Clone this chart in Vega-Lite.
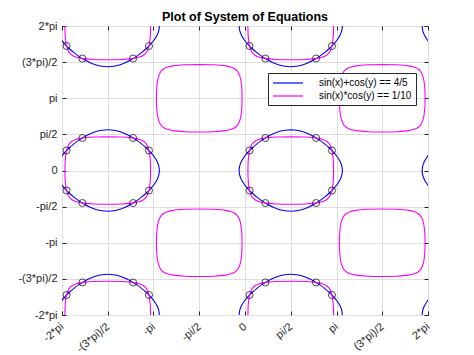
{
"$schema": "https://vega.github.io/schema/vega-lite/v6.json",
"width": 366, "height": 289,
"autosize": {"type": "none"},
"padding": {"left": 62, "top": 26, "right": 46, "bottom": 40},
"background": "white",
"title": {"text": "Plot of System of Equations", "font": "Liberation Sans", "fontSize": 12.5, "fontWeight": "bold", "color": "#000000", "offset": -3},
"config": {
 "view": {"stroke": "#262626", "strokeWidth": 1},
 "axis": {"labelFont": "Liberation Sans", "labelFontSize": 11, "labelColor": "#262626", "tickColor": "#262626", "gridColor": "#dfdfdf", "domain": false, "title": null, "tickSize": -4}
},
"datasets": {
"blue": [
{"g":1,"x":1.5708,"y":1.7722},{"g":1,"x":1.7708,"y":1.7519},{"g":1,"x":1.9708,"y":1.6922},{"g":1,"x":2.1708,"y":1.5961},{"g":1,"x":2.3708,"y":1.4673},{"g":1,"x":2.5708,"y":1.3081},{"g":1,"x":2.7301,"y":1.1593},{"g":1,"x":2.8789,"y":1.0},{"g":1,"x":3.0381,"y":0.8},{"g":1,"x":3.1669,"y":0.6},{"g":1,"x":3.2630,"y":0.4},{"g":1,"x":3.3227,"y":0.2},{"g":1,"x":3.3430,"y":0},
{"g":1,"x":3.3227,"y":-0.2},{"g":1,"x":3.2630,"y":-0.4},{"g":1,"x":3.1669,"y":-0.6},{"g":1,"x":3.0381,"y":-0.8},{"g":1,"x":2.8789,"y":-1.0},{"g":1,"x":2.7301,"y":-1.1593},{"g":1,"x":2.5708,"y":-1.3081},{"g":1,"x":2.3708,"y":-1.4673},{"g":1,"x":2.1708,"y":-1.5961},{"g":1,"x":1.9708,"y":-1.6922},{"g":1,"x":1.7708,"y":-1.7519},{"g":1,"x":1.5708,"y":-1.7722},
{"g":1,"x":1.3708,"y":-1.7519},{"g":1,"x":1.1708,"y":-1.6922},{"g":1,"x":0.9708,"y":-1.5961},{"g":1,"x":0.7708,"y":-1.4673},{"g":1,"x":0.5708,"y":-1.3081},{"g":1,"x":0.4115,"y":-1.1593},{"g":1,"x":0.2627,"y":-1.0},{"g":1,"x":0.1035,"y":-0.8},{"g":1,"x":-0.0253,"y":-0.6},{"g":1,"x":-0.1214,"y":-0.4},{"g":1,"x":-0.1811,"y":-0.2},{"g":1,"x":-0.2014,"y":0},
{"g":1,"x":-0.1811,"y":0.2},{"g":1,"x":-0.1214,"y":0.4},{"g":1,"x":-0.0253,"y":0.6},{"g":1,"x":0.1035,"y":0.8},{"g":1,"x":0.2627,"y":1.0},{"g":1,"x":0.4115,"y":1.1593},{"g":1,"x":0.5708,"y":1.3081},{"g":1,"x":0.7708,"y":1.4673},{"g":1,"x":0.9708,"y":1.5961},{"g":1,"x":1.1708,"y":1.6922},{"g":1,"x":1.3708,"y":1.7519},{"g":1,"x":1.5708,"y":1.7722},
{"g":2,"x":-6.3085,"y":0.6},{"g":2,"x":-6.1797,"y":0.8},{"g":2,"x":-6.0205,"y":1.0},{"g":2,"x":-5.8717,"y":1.1593},{"g":2,"x":-5.7124,"y":1.3081},{"g":2,"x":-5.5124,"y":1.4673},{"g":2,"x":-5.3124,"y":1.5961},{"g":2,"x":-5.1124,"y":1.6922},{"g":2,"x":-4.9124,"y":1.7519},{"g":2,"x":-4.7124,"y":1.7722},
{"g":2,"x":-4.5124,"y":1.7519},{"g":2,"x":-4.3124,"y":1.6922},{"g":2,"x":-4.1124,"y":1.5961},{"g":2,"x":-3.9124,"y":1.4673},{"g":2,"x":-3.7124,"y":1.3081},{"g":2,"x":-3.5531,"y":1.1593},{"g":2,"x":-3.4043,"y":1.0},{"g":2,"x":-3.2451,"y":0.8},{"g":2,"x":-3.1163,"y":0.6},{"g":2,"x":-3.0202,"y":0.4},{"g":2,"x":-2.9605,"y":0.2},{"g":2,"x":-2.9402,"y":0},
{"g":2,"x":-2.9605,"y":-0.2},{"g":2,"x":-3.0202,"y":-0.4},{"g":2,"x":-3.1163,"y":-0.6},{"g":2,"x":-3.2451,"y":-0.8},{"g":2,"x":-3.4043,"y":-1.0},{"g":2,"x":-3.5531,"y":-1.1593},{"g":2,"x":-3.7124,"y":-1.3081},{"g":2,"x":-3.9124,"y":-1.4673},{"g":2,"x":-4.1124,"y":-1.5961},{"g":2,"x":-4.3124,"y":-1.6922},{"g":2,"x":-4.5124,"y":-1.7519},{"g":2,"x":-4.7124,"y":-1.7722},
{"g":2,"x":-4.9124,"y":-1.7519},{"g":2,"x":-5.1124,"y":-1.6922},{"g":2,"x":-5.3124,"y":-1.5961},{"g":2,"x":-5.5124,"y":-1.4673},{"g":2,"x":-5.7124,"y":-1.3081},{"g":2,"x":-5.8717,"y":-1.1593},{"g":2,"x":-6.0205,"y":-1.0},{"g":2,"x":-6.1797,"y":-0.8},{"g":2,"x":-6.3085,"y":-0.6},
{"g":3,"x":6.3867,"y":-0.8},{"g":3,"x":6.2579,"y":-0.6},{"g":3,"x":6.1618,"y":-0.4},{"g":3,"x":6.1021,"y":-0.2},{"g":3,"x":6.0818,"y":0},{"g":3,"x":6.1021,"y":0.2},{"g":3,"x":6.1618,"y":0.4},{"g":3,"x":6.2579,"y":0.6},{"g":3,"x":6.3867,"y":0.8},
{"g":4,"x":-0.2014,"y":6.2832},{"g":4,"x":-0.1811,"y":6.0832},{"g":4,"x":-0.1214,"y":5.8832},{"g":4,"x":-0.0253,"y":5.6832},{"g":4,"x":0.1035,"y":5.4832},{"g":4,"x":0.2627,"y":5.2832},{"g":4,"x":0.4115,"y":5.1239},{"g":4,"x":0.5708,"y":4.9751},{"g":4,"x":0.7708,"y":4.8159},{"g":4,"x":0.9708,"y":4.6871},{"g":4,"x":1.1708,"y":4.5910},{"g":4,"x":1.3708,"y":4.5313},{"g":4,"x":1.5708,"y":4.5110},{"g":4,"x":1.7708,"y":4.5313},{"g":4,"x":1.9708,"y":4.5910},{"g":4,"x":2.1708,"y":4.6871},{"g":4,"x":2.3708,"y":4.8159},{"g":4,"x":2.5708,"y":4.9751},{"g":4,"x":2.7301,"y":5.1239},{"g":4,"x":2.8789,"y":5.2832},{"g":4,"x":3.0381,"y":5.4832},{"g":4,"x":3.1669,"y":5.6832},{"g":4,"x":3.2630,"y":5.8832},{"g":4,"x":3.3227,"y":6.0832},{"g":4,"x":3.3430,"y":6.2832},
{"g":5,"x":-0.2014,"y":-6.2832},{"g":5,"x":-0.1811,"y":-6.0832},{"g":5,"x":-0.1214,"y":-5.8832},{"g":5,"x":-0.0253,"y":-5.6832},{"g":5,"x":0.1035,"y":-5.4832},{"g":5,"x":0.2627,"y":-5.2832},{"g":5,"x":0.4115,"y":-5.1239},{"g":5,"x":0.5708,"y":-4.9751},{"g":5,"x":0.7708,"y":-4.8159},{"g":5,"x":0.9708,"y":-4.6871},{"g":5,"x":1.1708,"y":-4.5910},{"g":5,"x":1.3708,"y":-4.5313},{"g":5,"x":1.5708,"y":-4.5110},{"g":5,"x":1.7708,"y":-4.5313},{"g":5,"x":1.9708,"y":-4.5910},{"g":5,"x":2.1708,"y":-4.6871},{"g":5,"x":2.3708,"y":-4.8159},{"g":5,"x":2.5708,"y":-4.9751},{"g":5,"x":2.7301,"y":-5.1239},{"g":5,"x":2.8789,"y":-5.2832},{"g":5,"x":3.0381,"y":-5.4832},{"g":5,"x":3.1669,"y":-5.6832},{"g":5,"x":3.2630,"y":-5.8832},{"g":5,"x":3.3227,"y":-6.0832},{"g":5,"x":3.3430,"y":-6.2832},
{"g":6,"x":-6.3085,"y":5.6832},{"g":6,"x":-6.1797,"y":5.4832},{"g":6,"x":-6.0205,"y":5.2832},{"g":6,"x":-5.8717,"y":5.1239},{"g":6,"x":-5.7124,"y":4.9751},{"g":6,"x":-5.5124,"y":4.8159},{"g":6,"x":-5.3124,"y":4.6871},{"g":6,"x":-5.1124,"y":4.5910},{"g":6,"x":-4.9124,"y":4.5313},{"g":6,"x":-4.7124,"y":4.5110},{"g":6,"x":-4.5124,"y":4.5313},{"g":6,"x":-4.3124,"y":4.5910},{"g":6,"x":-4.1124,"y":4.6871},{"g":6,"x":-3.9124,"y":4.8159},{"g":6,"x":-3.7124,"y":4.9751},{"g":6,"x":-3.5531,"y":5.1239},{"g":6,"x":-3.4043,"y":5.2832},{"g":6,"x":-3.2451,"y":5.4832},{"g":6,"x":-3.1163,"y":5.6832},{"g":6,"x":-3.0202,"y":5.8832},{"g":6,"x":-2.9605,"y":6.0832},{"g":6,"x":-2.9402,"y":6.2832},
{"g":7,"x":-6.3085,"y":-5.6832},{"g":7,"x":-6.1797,"y":-5.4832},{"g":7,"x":-6.0205,"y":-5.2832},{"g":7,"x":-5.8717,"y":-5.1239},{"g":7,"x":-5.7124,"y":-4.9751},{"g":7,"x":-5.5124,"y":-4.8159},{"g":7,"x":-5.3124,"y":-4.6871},{"g":7,"x":-5.1124,"y":-4.5910},{"g":7,"x":-4.9124,"y":-4.5313},{"g":7,"x":-4.7124,"y":-4.5110},{"g":7,"x":-4.5124,"y":-4.5313},{"g":7,"x":-4.3124,"y":-4.5910},{"g":7,"x":-4.1124,"y":-4.6871},{"g":7,"x":-3.9124,"y":-4.8159},{"g":7,"x":-3.7124,"y":-4.9751},{"g":7,"x":-3.5531,"y":-5.1239},{"g":7,"x":-3.4043,"y":-5.2832},{"g":7,"x":-3.2451,"y":-5.4832},{"g":7,"x":-3.1163,"y":-5.6832},{"g":7,"x":-3.0202,"y":-5.8832},{"g":7,"x":-2.9605,"y":-6.0832},{"g":7,"x":-2.9402,"y":-6.2832},
{"g":8,"x":6.0818,"y":6.2832},{"g":8,"x":6.1021,"y":6.0832},{"g":8,"x":6.1618,"y":5.8832},{"g":8,"x":6.2579,"y":5.6832},{"g":8,"x":6.3867,"y":5.4832},
{"g":9,"x":6.0818,"y":-6.2832},{"g":9,"x":6.1021,"y":-6.0832},{"g":9,"x":6.1618,"y":-5.8832},{"g":9,"x":6.2579,"y":-5.6832},{"g":9,"x":6.3867,"y":-5.4832}
],
"mag": [
{"g":1,"x":1.5708,"y":1.4706},{"g":1,"x":2.0708,"y":1.4566},{"g":1,"x":2.4708,"y":1.4092},{"g":1,"x":2.6708,"y":1.3485},{"g":1,"x":2.7208,"y":1.3235},{"g":1,"x":2.7708,"y":1.2912},{"g":1,"x":2.8198,"y":1.249},{"g":1,"x":2.8620,"y":1.2},{"g":1,"x":2.8943,"y":1.15},{"g":1,"x":2.9193,"y":1.1},{"g":1,"x":2.9800,"y":0.9},{"g":1,"x":3.0274,"y":0.5},{"g":1,"x":3.0414,"y":0},
{"g":1,"x":3.0274,"y":-0.5},{"g":1,"x":2.9800,"y":-0.9},{"g":1,"x":2.9193,"y":-1.1},{"g":1,"x":2.8943,"y":-1.15},{"g":1,"x":2.8620,"y":-1.2},{"g":1,"x":2.8198,"y":-1.249},{"g":1,"x":2.7708,"y":-1.2912},{"g":1,"x":2.7208,"y":-1.3235},{"g":1,"x":2.6708,"y":-1.3485},{"g":1,"x":2.4708,"y":-1.4092},{"g":1,"x":2.0708,"y":-1.4566},{"g":1,"x":1.5708,"y":-1.4706},
{"g":1,"x":1.0708,"y":-1.4566},{"g":1,"x":0.6708,"y":-1.4092},{"g":1,"x":0.4708,"y":-1.3485},{"g":1,"x":0.4208,"y":-1.3235},{"g":1,"x":0.3708,"y":-1.2912},{"g":1,"x":0.3218,"y":-1.249},{"g":1,"x":0.2796,"y":-1.2},{"g":1,"x":0.2473,"y":-1.15},{"g":1,"x":0.2223,"y":-1.1},{"g":1,"x":0.1616,"y":-0.9},{"g":1,"x":0.1142,"y":-0.5},{"g":1,"x":0.1002,"y":0},
{"g":1,"x":0.1142,"y":0.5},{"g":1,"x":0.1616,"y":0.9},{"g":1,"x":0.2223,"y":1.1},{"g":1,"x":0.2473,"y":1.15},{"g":1,"x":0.2796,"y":1.2},{"g":1,"x":0.3218,"y":1.249},{"g":1,"x":0.3708,"y":1.2912},{"g":1,"x":0.4208,"y":1.3235},{"g":1,"x":0.4708,"y":1.3485},{"g":1,"x":0.6708,"y":1.4092},{"g":1,"x":1.0708,"y":1.4566},{"g":1,"x":1.5708,"y":1.4706},
{"g":2,"x":-4.7124,"y":1.4706},{"g":2,"x":-4.2124,"y":1.4566},{"g":2,"x":-3.8124,"y":1.4092},{"g":2,"x":-3.6124,"y":1.3485},{"g":2,"x":-3.5624,"y":1.3235},{"g":2,"x":-3.5124,"y":1.2912},{"g":2,"x":-3.4634,"y":1.249},{"g":2,"x":-3.4212,"y":1.2},{"g":2,"x":-3.3889,"y":1.15},{"g":2,"x":-3.3639,"y":1.1},{"g":2,"x":-3.3032,"y":0.9},{"g":2,"x":-3.2558,"y":0.5},{"g":2,"x":-3.2418,"y":0},
{"g":2,"x":-3.2558,"y":-0.5},{"g":2,"x":-3.3032,"y":-0.9},{"g":2,"x":-3.3639,"y":-1.1},{"g":2,"x":-3.3889,"y":-1.15},{"g":2,"x":-3.4212,"y":-1.2},{"g":2,"x":-3.4634,"y":-1.249},{"g":2,"x":-3.5124,"y":-1.2912},{"g":2,"x":-3.5624,"y":-1.3235},{"g":2,"x":-3.6124,"y":-1.3485},{"g":2,"x":-3.8124,"y":-1.4092},{"g":2,"x":-4.2124,"y":-1.4566},{"g":2,"x":-4.7124,"y":-1.4706},
{"g":2,"x":-5.2124,"y":-1.4566},{"g":2,"x":-5.6124,"y":-1.4092},{"g":2,"x":-5.8124,"y":-1.3485},{"g":2,"x":-5.8624,"y":-1.3235},{"g":2,"x":-5.9124,"y":-1.2912},{"g":2,"x":-5.9614,"y":-1.249},{"g":2,"x":-6.0036,"y":-1.2},{"g":2,"x":-6.0359,"y":-1.15},{"g":2,"x":-6.0609,"y":-1.1},{"g":2,"x":-6.1216,"y":-0.9},{"g":2,"x":-6.1690,"y":-0.5},{"g":2,"x":-6.1830,"y":0},
{"g":2,"x":-6.1690,"y":0.5},{"g":2,"x":-6.1216,"y":0.9},{"g":2,"x":-6.0609,"y":1.1},{"g":2,"x":-6.0359,"y":1.15},{"g":2,"x":-6.0036,"y":1.2},{"g":2,"x":-5.9614,"y":1.249},{"g":2,"x":-5.9124,"y":1.2912},{"g":2,"x":-5.8624,"y":1.3235},{"g":2,"x":-5.8124,"y":1.3485},{"g":2,"x":-5.6124,"y":1.4092},{"g":2,"x":-5.2124,"y":1.4566},{"g":2,"x":-4.7124,"y":1.4706},
{"g":3,"x":-1.5708,"y":4.6122},{"g":3,"x":-1.0708,"y":4.5982},{"g":3,"x":-0.6708,"y":4.5508},{"g":3,"x":-0.4708,"y":4.4901},{"g":3,"x":-0.4208,"y":4.4651},{"g":3,"x":-0.3708,"y":4.4328},{"g":3,"x":-0.3218,"y":4.3906},{"g":3,"x":-0.2796,"y":4.3416},{"g":3,"x":-0.2473,"y":4.2916},{"g":3,"x":-0.2223,"y":4.2416},{"g":3,"x":-0.1616,"y":4.0416},{"g":3,"x":-0.1142,"y":3.6416},{"g":3,"x":-0.1002,"y":3.1416},
{"g":3,"x":-0.1142,"y":2.6416},{"g":3,"x":-0.1616,"y":2.2416},{"g":3,"x":-0.2223,"y":2.0416},{"g":3,"x":-0.2473,"y":1.9916},{"g":3,"x":-0.2796,"y":1.9416},{"g":3,"x":-0.3218,"y":1.8926},{"g":3,"x":-0.3708,"y":1.8504},{"g":3,"x":-0.4208,"y":1.8181},{"g":3,"x":-0.4708,"y":1.7931},{"g":3,"x":-0.6708,"y":1.7324},{"g":3,"x":-1.0708,"y":1.6850},{"g":3,"x":-1.5708,"y":1.6710},
{"g":3,"x":-2.0708,"y":1.6850},{"g":3,"x":-2.4708,"y":1.7324},{"g":3,"x":-2.6708,"y":1.7931},{"g":3,"x":-2.7208,"y":1.8181},{"g":3,"x":-2.7708,"y":1.8504},{"g":3,"x":-2.8198,"y":1.8926},{"g":3,"x":-2.8620,"y":1.9416},{"g":3,"x":-2.8943,"y":1.9916},{"g":3,"x":-2.9193,"y":2.0416},{"g":3,"x":-2.9800,"y":2.2416},{"g":3,"x":-3.0274,"y":2.6416},{"g":3,"x":-3.0414,"y":3.1416},
{"g":3,"x":-3.0274,"y":3.6416},{"g":3,"x":-2.9800,"y":4.0416},{"g":3,"x":-2.9193,"y":4.2416},{"g":3,"x":-2.8943,"y":4.2916},{"g":3,"x":-2.8620,"y":4.3416},{"g":3,"x":-2.8198,"y":4.3906},{"g":3,"x":-2.7708,"y":4.4328},{"g":3,"x":-2.7208,"y":4.4651},{"g":3,"x":-2.6708,"y":4.4901},{"g":3,"x":-2.4708,"y":4.5508},{"g":3,"x":-2.0708,"y":4.5982},{"g":3,"x":-1.5708,"y":4.6122},
{"g":4,"x":-1.5708,"y":-4.6122},{"g":4,"x":-1.0708,"y":-4.5982},{"g":4,"x":-0.6708,"y":-4.5508},{"g":4,"x":-0.4708,"y":-4.4901},{"g":4,"x":-0.4208,"y":-4.4651},{"g":4,"x":-0.3708,"y":-4.4328},{"g":4,"x":-0.3218,"y":-4.3906},{"g":4,"x":-0.2796,"y":-4.3416},{"g":4,"x":-0.2473,"y":-4.2916},{"g":4,"x":-0.2223,"y":-4.2416},{"g":4,"x":-0.1616,"y":-4.0416},{"g":4,"x":-0.1142,"y":-3.6416},{"g":4,"x":-0.1002,"y":-3.1416},
{"g":4,"x":-0.1142,"y":-2.6416},{"g":4,"x":-0.1616,"y":-2.2416},{"g":4,"x":-0.2223,"y":-2.0416},{"g":4,"x":-0.2473,"y":-1.9916},{"g":4,"x":-0.2796,"y":-1.9416},{"g":4,"x":-0.3218,"y":-1.8926},{"g":4,"x":-0.3708,"y":-1.8504},{"g":4,"x":-0.4208,"y":-1.8181},{"g":4,"x":-0.4708,"y":-1.7931},{"g":4,"x":-0.6708,"y":-1.7324},{"g":4,"x":-1.0708,"y":-1.6850},{"g":4,"x":-1.5708,"y":-1.6710},
{"g":4,"x":-2.0708,"y":-1.6850},{"g":4,"x":-2.4708,"y":-1.7324},{"g":4,"x":-2.6708,"y":-1.7931},{"g":4,"x":-2.7208,"y":-1.8181},{"g":4,"x":-2.7708,"y":-1.8504},{"g":4,"x":-2.8198,"y":-1.8926},{"g":4,"x":-2.8620,"y":-1.9416},{"g":4,"x":-2.8943,"y":-1.9916},{"g":4,"x":-2.9193,"y":-2.0416},{"g":4,"x":-2.9800,"y":-2.2416},{"g":4,"x":-3.0274,"y":-2.6416},{"g":4,"x":-3.0414,"y":-3.1416},
{"g":4,"x":-3.0274,"y":-3.6416},{"g":4,"x":-2.9800,"y":-4.0416},{"g":4,"x":-2.9193,"y":-4.2416},{"g":4,"x":-2.8943,"y":-4.2916},{"g":4,"x":-2.8620,"y":-4.3416},{"g":4,"x":-2.8198,"y":-4.3906},{"g":4,"x":-2.7708,"y":-4.4328},{"g":4,"x":-2.7208,"y":-4.4651},{"g":4,"x":-2.6708,"y":-4.4901},{"g":4,"x":-2.4708,"y":-4.5508},{"g":4,"x":-2.0708,"y":-4.5982},{"g":4,"x":-1.5708,"y":-4.6122},
{"g":5,"x":4.7124,"y":4.6122},{"g":5,"x":5.2124,"y":4.5982},{"g":5,"x":5.6124,"y":4.5508},{"g":5,"x":5.8124,"y":4.4901},{"g":5,"x":5.8624,"y":4.4651},{"g":5,"x":5.9124,"y":4.4328},{"g":5,"x":5.9614,"y":4.3906},{"g":5,"x":6.0036,"y":4.3416},{"g":5,"x":6.0359,"y":4.2916},{"g":5,"x":6.0609,"y":4.2416},{"g":5,"x":6.1216,"y":4.0416},{"g":5,"x":6.1690,"y":3.6416},{"g":5,"x":6.1830,"y":3.1416},
{"g":5,"x":6.1690,"y":2.6416},{"g":5,"x":6.1216,"y":2.2416},{"g":5,"x":6.0609,"y":2.0416},{"g":5,"x":6.0359,"y":1.9916},{"g":5,"x":6.0036,"y":1.9416},{"g":5,"x":5.9614,"y":1.8926},{"g":5,"x":5.9124,"y":1.8504},{"g":5,"x":5.8624,"y":1.8181},{"g":5,"x":5.8124,"y":1.7931},{"g":5,"x":5.6124,"y":1.7324},{"g":5,"x":5.2124,"y":1.6850},{"g":5,"x":4.7124,"y":1.6710},
{"g":5,"x":4.2124,"y":1.6850},{"g":5,"x":3.8124,"y":1.7324},{"g":5,"x":3.6124,"y":1.7931},{"g":5,"x":3.5624,"y":1.8181},{"g":5,"x":3.5124,"y":1.8504},{"g":5,"x":3.4634,"y":1.8926},{"g":5,"x":3.4212,"y":1.9416},{"g":5,"x":3.3889,"y":1.9916},{"g":5,"x":3.3639,"y":2.0416},{"g":5,"x":3.3032,"y":2.2416},{"g":5,"x":3.2558,"y":2.6416},{"g":5,"x":3.2418,"y":3.1416},
{"g":5,"x":3.2558,"y":3.6416},{"g":5,"x":3.3032,"y":4.0416},{"g":5,"x":3.3639,"y":4.2416},{"g":5,"x":3.3889,"y":4.2916},{"g":5,"x":3.4212,"y":4.3416},{"g":5,"x":3.4634,"y":4.3906},{"g":5,"x":3.5124,"y":4.4328},{"g":5,"x":3.5624,"y":4.4651},{"g":5,"x":3.6124,"y":4.4901},{"g":5,"x":3.8124,"y":4.5508},{"g":5,"x":4.2124,"y":4.5982},{"g":5,"x":4.7124,"y":4.6122},
{"g":6,"x":4.7124,"y":-4.6122},{"g":6,"x":5.2124,"y":-4.5982},{"g":6,"x":5.6124,"y":-4.5508},{"g":6,"x":5.8124,"y":-4.4901},{"g":6,"x":5.8624,"y":-4.4651},{"g":6,"x":5.9124,"y":-4.4328},{"g":6,"x":5.9614,"y":-4.3906},{"g":6,"x":6.0036,"y":-4.3416},{"g":6,"x":6.0359,"y":-4.2916},{"g":6,"x":6.0609,"y":-4.2416},{"g":6,"x":6.1216,"y":-4.0416},{"g":6,"x":6.1690,"y":-3.6416},{"g":6,"x":6.1830,"y":-3.1416},
{"g":6,"x":6.1690,"y":-2.6416},{"g":6,"x":6.1216,"y":-2.2416},{"g":6,"x":6.0609,"y":-2.0416},{"g":6,"x":6.0359,"y":-1.9916},{"g":6,"x":6.0036,"y":-1.9416},{"g":6,"x":5.9614,"y":-1.8926},{"g":6,"x":5.9124,"y":-1.8504},{"g":6,"x":5.8624,"y":-1.8181},{"g":6,"x":5.8124,"y":-1.7931},{"g":6,"x":5.6124,"y":-1.7324},{"g":6,"x":5.2124,"y":-1.6850},{"g":6,"x":4.7124,"y":-1.6710},
{"g":6,"x":4.2124,"y":-1.6850},{"g":6,"x":3.8124,"y":-1.7324},{"g":6,"x":3.6124,"y":-1.7931},{"g":6,"x":3.5624,"y":-1.8181},{"g":6,"x":3.5124,"y":-1.8504},{"g":6,"x":3.4634,"y":-1.8926},{"g":6,"x":3.4212,"y":-1.9416},{"g":6,"x":3.3889,"y":-1.9916},{"g":6,"x":3.3639,"y":-2.0416},{"g":6,"x":3.3032,"y":-2.2416},{"g":6,"x":3.2558,"y":-2.6416},{"g":6,"x":3.2418,"y":-3.1416},
{"g":6,"x":3.2558,"y":-3.6416},{"g":6,"x":3.3032,"y":-4.0416},{"g":6,"x":3.3639,"y":-4.2416},{"g":6,"x":3.3889,"y":-4.2916},{"g":6,"x":3.4212,"y":-4.3416},{"g":6,"x":3.4634,"y":-4.3906},{"g":6,"x":3.5124,"y":-4.4328},{"g":6,"x":3.5624,"y":-4.4651},{"g":6,"x":3.6124,"y":-4.4901},{"g":6,"x":3.8124,"y":-4.5508},{"g":6,"x":4.2124,"y":-4.5982},{"g":6,"x":4.7124,"y":-4.6122},
{"g":7,"x":0.1002,"y":6.2832},{"g":7,"x":0.1142,"y":5.7832},{"g":7,"x":0.1616,"y":5.3832},{"g":7,"x":0.2223,"y":5.1832},{"g":7,"x":0.2473,"y":5.1332},{"g":7,"x":0.2796,"y":5.0832},{"g":7,"x":0.3218,"y":5.0342},{"g":7,"x":0.3708,"y":4.9920},{"g":7,"x":0.4208,"y":4.9597},{"g":7,"x":0.4708,"y":4.9347},{"g":7,"x":0.6708,"y":4.8740},{"g":7,"x":1.0708,"y":4.8266},{"g":7,"x":1.5708,"y":4.8126},{"g":7,"x":2.0708,"y":4.8266},{"g":7,"x":2.4708,"y":4.8740},{"g":7,"x":2.6708,"y":4.9347},{"g":7,"x":2.7208,"y":4.9597},{"g":7,"x":2.7708,"y":4.9920},{"g":7,"x":2.8198,"y":5.0342},{"g":7,"x":2.8620,"y":5.0832},{"g":7,"x":2.8943,"y":5.1332},{"g":7,"x":2.9193,"y":5.1832},{"g":7,"x":2.9800,"y":5.3832},{"g":7,"x":3.0274,"y":5.7832},{"g":7,"x":3.0414,"y":6.2832},
{"g":8,"x":0.1002,"y":-6.2832},{"g":8,"x":0.1142,"y":-5.7832},{"g":8,"x":0.1616,"y":-5.3832},{"g":8,"x":0.2223,"y":-5.1832},{"g":8,"x":0.2473,"y":-5.1332},{"g":8,"x":0.2796,"y":-5.0832},{"g":8,"x":0.3218,"y":-5.0342},{"g":8,"x":0.3708,"y":-4.9920},{"g":8,"x":0.4208,"y":-4.9597},{"g":8,"x":0.4708,"y":-4.9347},{"g":8,"x":0.6708,"y":-4.8740},{"g":8,"x":1.0708,"y":-4.8266},{"g":8,"x":1.5708,"y":-4.8126},{"g":8,"x":2.0708,"y":-4.8266},{"g":8,"x":2.4708,"y":-4.8740},{"g":8,"x":2.6708,"y":-4.9347},{"g":8,"x":2.7208,"y":-4.9597},{"g":8,"x":2.7708,"y":-4.9920},{"g":8,"x":2.8198,"y":-5.0342},{"g":8,"x":2.8620,"y":-5.0832},{"g":8,"x":2.8943,"y":-5.1332},{"g":8,"x":2.9193,"y":-5.1832},{"g":8,"x":2.9800,"y":-5.3832},{"g":8,"x":3.0274,"y":-5.7832},{"g":8,"x":3.0414,"y":-6.2832},
{"g":9,"x":-6.1830,"y":6.2832},{"g":9,"x":-6.1690,"y":5.7832},{"g":9,"x":-6.1216,"y":5.3832},{"g":9,"x":-6.0609,"y":5.1832},{"g":9,"x":-6.0359,"y":5.1332},{"g":9,"x":-6.0036,"y":5.0832},{"g":9,"x":-5.9614,"y":5.0342},{"g":9,"x":-5.9124,"y":4.9920},{"g":9,"x":-5.8624,"y":4.9597},{"g":9,"x":-5.8124,"y":4.9347},{"g":9,"x":-5.6124,"y":4.8740},{"g":9,"x":-5.2124,"y":4.8266},{"g":9,"x":-4.7124,"y":4.8126},{"g":9,"x":-4.2124,"y":4.8266},{"g":9,"x":-3.8124,"y":4.8740},{"g":9,"x":-3.6124,"y":4.9347},{"g":9,"x":-3.5624,"y":4.9597},{"g":9,"x":-3.5124,"y":4.9920},{"g":9,"x":-3.4634,"y":5.0342},{"g":9,"x":-3.4212,"y":5.0832},{"g":9,"x":-3.3889,"y":5.1332},{"g":9,"x":-3.3639,"y":5.1832},{"g":9,"x":-3.3032,"y":5.3832},{"g":9,"x":-3.2558,"y":5.7832},{"g":9,"x":-3.2418,"y":6.2832},
{"g":10,"x":-6.1830,"y":-6.2832},{"g":10,"x":-6.1690,"y":-5.7832},{"g":10,"x":-6.1216,"y":-5.3832},{"g":10,"x":-6.0609,"y":-5.1832},{"g":10,"x":-6.0359,"y":-5.1332},{"g":10,"x":-6.0036,"y":-5.0832},{"g":10,"x":-5.9614,"y":-5.0342},{"g":10,"x":-5.9124,"y":-4.9920},{"g":10,"x":-5.8624,"y":-4.9597},{"g":10,"x":-5.8124,"y":-4.9347},{"g":10,"x":-5.6124,"y":-4.8740},{"g":10,"x":-5.2124,"y":-4.8266},{"g":10,"x":-4.7124,"y":-4.8126},{"g":10,"x":-4.2124,"y":-4.8266},{"g":10,"x":-3.8124,"y":-4.8740},{"g":10,"x":-3.6124,"y":-4.9347},{"g":10,"x":-3.5624,"y":-4.9597},{"g":10,"x":-3.5124,"y":-4.9920},{"g":10,"x":-3.4634,"y":-5.0342},{"g":10,"x":-3.4212,"y":-5.0832},{"g":10,"x":-3.3889,"y":-5.1332},{"g":10,"x":-3.3639,"y":-5.1832},{"g":10,"x":-3.3032,"y":-5.3832},{"g":10,"x":-3.2558,"y":-5.7832},{"g":10,"x":-3.2418,"y":-6.2832}
],
"pts": [
{"x":-5.5822,"y":-4.8681},{"x":-5.5822,"y":-1.4151},{"x":-5.5822,"y":1.4151},{"x":-5.5822,"y":4.8681},
{"x":-3.8426,"y":-4.8681},{"x":-3.8426,"y":-1.4151},{"x":-3.8426,"y":1.4151},{"x":-3.8426,"y":4.8681},
{"x":0.7010,"y":-4.8681},{"x":0.7010,"y":-1.4151},{"x":0.7010,"y":1.4151},{"x":0.7010,"y":4.8681},
{"x":2.4406,"y":-4.8681},{"x":2.4406,"y":-1.4151},{"x":2.4406,"y":1.4151},{"x":2.4406,"y":4.8681},
{"x":-6.1275,"y":-5.4134},{"x":-6.1275,"y":-0.8698},{"x":-6.1275,"y":0.8698},{"x":-6.1275,"y":5.4134},
{"x":-3.2973,"y":-5.4134},{"x":-3.2973,"y":-0.8698},{"x":-3.2973,"y":0.8698},{"x":-3.2973,"y":5.4134},
{"x":0.1557,"y":-5.4134},{"x":0.1557,"y":-0.8698},{"x":0.1557,"y":0.8698},{"x":0.1557,"y":5.4134},
{"x":2.9859,"y":-5.4134},{"x":2.9859,"y":-0.8698},{"x":2.9859,"y":0.8698},{"x":2.9859,"y":5.4134}
]
},
"layer": [
{
 "data": {"name": "blue"},
 "mark": {"type": "line", "interpolate": "catmull-rom", "strokeWidth": 1.1, "clip": true, "order": false},
 "encoding": {
  "x": {"field": "x", "type": "quantitative", "scale": {"domain": [-6.283185, 6.283185], "nice": false, "zero": false},
        "axis": {"orient": "bottom", "values": [-6.283185, -4.712389, -3.141593, -1.570796, 0, 1.570796, 3.141593, 4.712389, 6.283185],
                 "labelExpr": "['-2*pi','-(3*pi)/2','-pi','-pi/2','0','pi/2','pi','(3*pi)/2','2*pi'][round(datum.value/1.570796)+4]",
                 "labelAngle": -40, "labelAlign": "right", "labelBaseline": "middle", "labelPadding": 10, "ticks": false, "grid": true, "labelFlush": false, "labelOverlap": false}},
  "y": {"field": "y", "type": "quantitative", "scale": {"domain": [-6.283185, 6.283185], "nice": false, "zero": false},
        "axis": {"orient": "left", "values": [-6.283185, -4.712389, -3.141593, -1.570796, 0, 1.570796, 3.141593, 4.712389, 6.283185],
                 "labelExpr": "['-2*pi','-(3*pi)/2','-pi','-pi/2','0','pi/2','pi','(3*pi)/2','2*pi'][round(datum.value/1.570796)+4]",
                 "labelPadding": 5, "ticks": false, "grid": true, "labelFlush": false, "labelOverlap": false}},
  "detail": {"field": "g", "type": "nominal"},
  "color": {"datum": "sin(x)+cos(y) == 4/5", "type": "nominal",
            "scale": {"domain": ["sin(x)+cos(y) == 4/5", "sin(x)*cos(y) == 1/10"], "range": ["#0000ff", "#ff00ff"]},
            "legend": {"title": null, "orient": "none", "legendX": 206, "legendY": 47, "strokeColor": "#262626", "fillColor": "#ffffff", "padding": 4,
                       "labelFont": "Liberation Sans", "labelFontSize": 10, "labelColor": "#000000", "symbolType": "M-3,0H3", "symbolSize": 100,
                       "symbolStrokeWidth": 1.2, "symbolOffset": 10, "labelOffset": 25, "rowPadding": 2, "cornerRadius": 0}}
 }
},
{
 "data": {"name": "mag"},
 "mark": {"type": "line", "interpolate": "catmull-rom", "strokeWidth": 1.1, "clip": true, "order": false},
 "encoding": {
  "x": {"field": "x", "type": "quantitative",
        "axis": {"orient": "bottom", "values": [-6.283185, -4.712389, -3.141593, -1.570796, 0, 1.570796, 3.141593, 4.712389, 6.283185], "labels": false, "grid": false}},
  "y": {"field": "y", "type": "quantitative",
        "axis": {"orient": "left", "values": [-6.283185, -4.712389, -3.141593, -1.570796, 0, 1.570796, 3.141593, 4.712389, 6.283185], "labels": false, "grid": false}},
  "detail": {"field": "g", "type": "nominal"},
  "color": {"datum": "sin(x)*cos(y) == 1/10", "type": "nominal"}
 }
},
{
 "data": {"name": "pts"},
 "mark": {"type": "point", "shape": "circle", "filled": false, "color": "#000000", "strokeWidth": 1, "size": 50, "clip": true},
 "encoding": {
  "x": {"field": "x", "type": "quantitative",
        "axis": {"orient": "top", "values": [-6.283185, -4.712389, -3.141593, -1.570796, 0, 1.570796, 3.141593, 4.712389, 6.283185], "labels": false, "grid": false}},
  "y": {"field": "y", "type": "quantitative",
        "axis": {"orient": "right", "values": [-6.283185, -4.712389, -3.141593, -1.570796, 0, 1.570796, 3.141593, 4.712389, 6.283185], "labels": false, "grid": false}}
 }
}
],
"resolve": {"axis": {"x": "independent", "y": "independent"}}
}
